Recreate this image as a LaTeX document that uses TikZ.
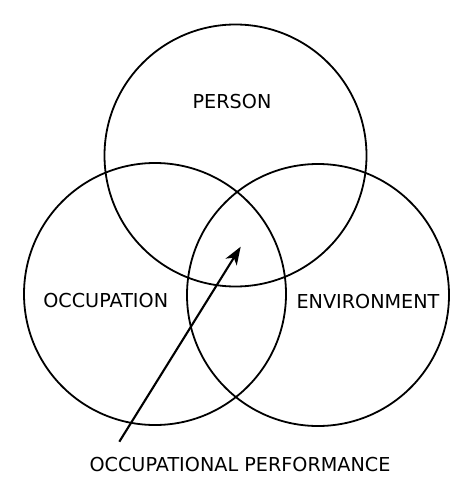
\documentclass[tikz,border=0pt]{standalone}
\usepackage{fontspec}
\setmainfont{DejaVu Sans}
\usetikzlibrary{arrows.meta}
\begin{document}
\begin{tikzpicture}[x=1pt,y=-1pt,
  ring/.style={draw=black,line width=1.8pt},
  lbl/.style={inner sep=0pt,font=\fontsize{19.2pt}{23pt}\selectfont},
  pointer/.style={line width=2.1pt,-{Stealth[length=18pt,width=13pt,inset=5pt]}}]
\useasboundingbox (0,0) rectangle (474,497);
\draw[ring] (235.5,155.5) circle[radius=131];
\draw[ring] (155,294) circle[radius=131];
\draw[ring] (318,295) circle[radius=131];
\node[lbl] (person) at (232,102) {PERSON};
\node[lbl] (occ) at (105.7,300.7) {OCCUPATION};
\node[lbl] (env) at (368,301.7) {ENVIRONMENT};
\node[lbl] (perf) at (240,465) {OCCUPATIONAL PERFORMANCE};
\coordinate (tail) at (119.3,441.7);
\coordinate (tip) at (240.7,246.7);
\draw[pointer] (tail) -- (tip);
\end{tikzpicture}
\end{document}
